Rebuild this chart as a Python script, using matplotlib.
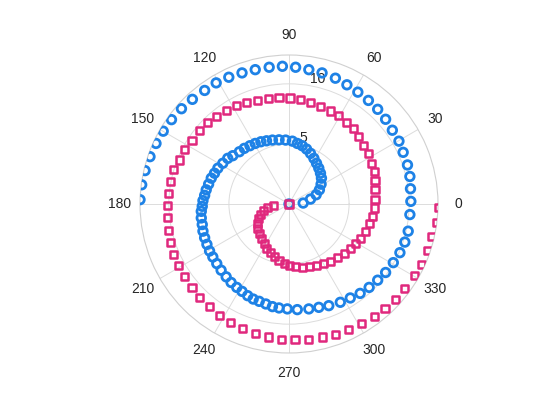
import numpy as np
import matplotlib.pyplot as plt

# Readings of each marker as east / north components (in r units)
blue_east = [0,1.18,1.79,2.26,2.53,2.67,2.70,2.62,2.48,2.29,2.07,1.79,1.46,1.10,0.69,0.28,-0.28,-0.83,-1.38,-1.87,-2.34,-2.81,-3.25,-3.72,-4.13,-4.68,-5.10,-5.51,-5.92,-6.20,-6.47,-6.69,-6.89,-7.02,-7.16,-7.22,-7.30,-7.30,-7.22,-7.16,-7.02,-6.83,-6.61,-6.34,-6.01,-5.65,-5.23,-4.82,-4.35,-3.91,-3.44,-2.98,-2.48,-1.93,-1.38,-0.83,-0.14,0.69,1.65,2.48,3.31,4.27,5.10,5.92,6.67,7.38,8.04,8.68,9.23,9.64,9.92,10.06,10.14,10.11,10.06,9.86,9.50,9.15,8.60,8.04,7.38,6.61,5.73,4.82,3.86,2.75,1.65,0.55,-0.55,-1.65,-2.81,-3.91,-5.01,-6.06,-7.02,-8.04,-8.95,-9.78,-10.47,-11.07,-11.57,-11.98,-12.26,-12.40]
blue_north = [0,0.08,0.41,0.77,1.18,1.65,2.15,2.56,2.98,3.39,3.80,4.21,4.57,4.85,5.04,5.23,5.32,5.34,5.32,5.26,5.18,5.04,4.85,4.63,4.35,4.02,3.80,3.39,2.98,2.56,2.15,1.65,1.18,0.72,0.28,-0.19,-0.61,-1.16,-1.71,-2.26,-2.81,-3.36,-3.91,-4.41,-4.96,-5.51,-6.06,-6.53,-6.94,-7.27,-7.63,-7.91,-8.10,-8.32,-8.54,-8.65,-8.73,-8.79,-8.73,-8.60,-8.46,-8.18,-7.82,-7.44,-6.94,-6.34,-5.70,-4.88,-4.05,-3.17,-2.26,-0.88,0.22,1.27,2.29,3.25,4.30,5.23,6.14,7.05,7.88,8.62,9.31,9.92,10.47,10.91,11.18,11.38,11.46,11.38,11.18,10.91,10.55,10.08,9.45,8.71,7.93,7.02,6.06,5.04,3.94,2.78,1.60,0.36]

pink_east = [0,-1.32,-1.79,-2.12,-2.40,-2.56,-2.62,-2.59,-2.48,-2.29,-2.07,-1.85,-1.52,-1.18,-0.83,-0.41,0.06,0.55,1.10,1.74,2.29,2.84,3.44,4.05,4.60,5.10,5.56,5.98,6.39,6.67,6.94,7.08,7.16,7.16,7.16,7.08,6.89,6.61,6.20,5.79,5.37,4.82,4.13,3.44,2.62,1.79,0.96,0.08,-0.83,-1.71,-2.62,-3.53,-4.35,-5.18,-6.01,-6.75,-7.44,-8.07,-8.68,-9.15,-9.64,-9.83,-10.06,-10.14,-10.14,-10.06,-9.86,-9.59,-9.23,-8.68,-8.07,-7.44,-6.61,-5.79,-4.90,-3.86,-2.81,-1.71,-0.61,0.50,1.65,2.75,3.86,4.96,6.06,7.11,7.99,8.87,9.64,10.41,11.02,11.57,11.90,12.26,12.45]
pink_north = [0,-0.11,-0.28,-0.55,-0.88,-1.24,-1.65,-2.07,-2.48,-2.89,-3.28,-3.69,-4.05,-4.38,-4.68,-4.93,-5.10,-5.21,-5.29,-5.23,-5.15,-4.96,-4.79,-4.46,-4.10,-3.72,-3.31,-2.87,-2.26,-1.65,-1.02,-0.33,0.41,1.18,1.93,2.70,3.39,4.21,4.90,5.59,6.28,6.78,7.33,7.74,8.15,8.48,8.71,8.82,8.84,8.76,8.62,8.43,8.21,7.80,7.30,6.75,6.09,5.32,4.57,3.66,2.84,1.87,0.85,-0.14,-1.10,-2.18,-3.22,-4.19,-5.15,-6.06,-6.94,-7.77,-8.54,-9.28,-9.83,-10.39,-10.80,-11.07,-11.27,-11.29,-11.27,-11.07,-10.88,-10.44,-9.92,-9.37,-8.73,-7.91,-7.00,-5.98,-5.01,-3.86,-2.67,-1.57,-0.28]

r_ticks = [0, 5, 10]
theta_ticks = list(range(0, 360, 30))

def to_polar(e, n):
    e = np.array(e); n = np.array(n)
    return np.arctan2(n, e), np.hypot(e, n)

bt, br = to_polar(blue_east, blue_north)
pt, pr = to_polar(pink_east, pink_north)

plt.rcParams['font.family'] = ['Liberation Sans', 'DejaVu Sans']
fig = plt.figure(figsize=(5.6, 4.2), dpi=100)
ax = fig.add_axes([140/560, 67/420, 298/560, 298/420], projection='polar')
ax.scatter(bt, br, s=38, facecolors='none', edgecolors='#1e82e6', linewidths=2.0, marker='o', zorder=3)
ax.scatter(pt, pr, s=26, facecolors='none', edgecolors='#e0287d', linewidths=1.8, marker='s', zorder=3)
ax.set_rlim(0, 12.4)
ax.set_rticks(r_ticks[1:])
ax.set_yticklabels([str(v) for v in r_ticks[1:]], fontsize=10, color='#262626')
ax.set_rlabel_position(80)
ax.set_thetagrids(theta_ticks, [str(v) for v in theta_ticks], fontsize=10, color='#262626')
ax.tick_params(axis='x', pad=4)
ax.grid(color='#dcdcdc', linewidth=0.7)
ax.spines['polar'].set_color('#d0d0d0')
ax.spines['polar'].set_linewidth(0.8)
fig.savefig('out.png', dpi=100)
